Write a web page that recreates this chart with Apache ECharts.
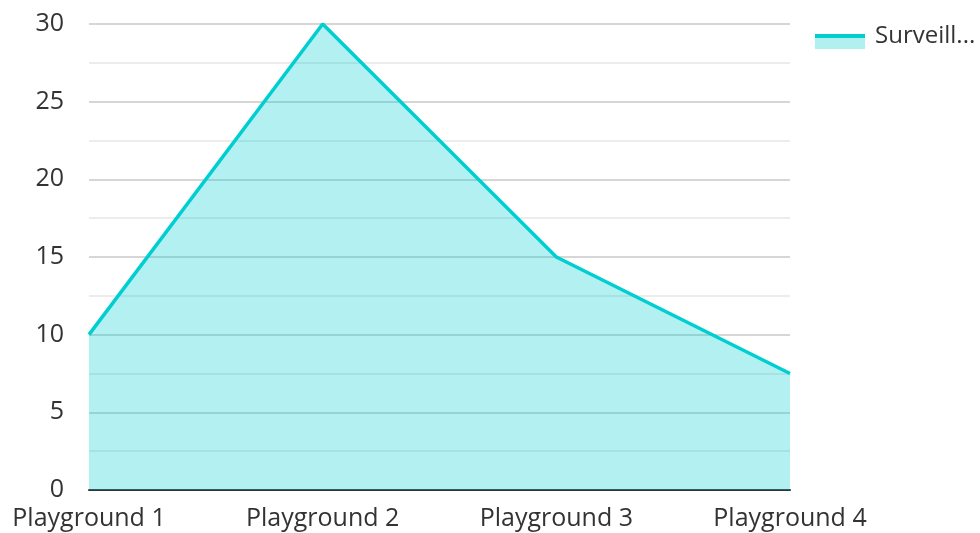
<!DOCTYPE html>
<html><head><meta charset="utf-8">
<script src="https://cdn.jsdelivr.net/npm/echarts@6/dist/echarts.min.js"></script>
<style>html,body{margin:0;padding:0;background:#fff}#c{width:980px;height:533px}</style>
</head><body><div id="c"></div>
<script>
const categories = ['Playground 1','Playground 2','Playground 3','Playground 4'];
const seriesName = 'Surveillance';
const values = [10, 30, 15, 7.5];
const lineColor = '#00CED1';
const areaColor = 'rgba(0,206,209,0.3)';
const chart = echarts.init(document.getElementById('c'));
chart.setOption({
  animation: false,
  textStyle: {fontFamily: 'Open Sans'},
  legend: {
    left: 810, top: 18, padding: 5, itemWidth: 50, itemHeight: 26, itemGap: 10,
    icon: 'rect',
    textStyle: {fontSize: 24, color: '#333', fontFamily: 'Open Sans', width: 112, overflow: 'truncate', padding: [0, 0, 0, 5]},
    data: [{
      name: seriesName,
      itemStyle: {
        color: {type: 'linear', x: 0, y: 0, x2: 0, y2: 1, colorStops: [
          {offset: 0, color: 'rgba(255,255,255,0)'}, {offset: 0.42, color: 'rgba(255,255,255,0)'},
          {offset: 0.42, color: lineColor}, {offset: 0.58, color: lineColor},
          {offset: 0.58, color: '#b2f0ef'}, {offset: 1, color: '#b2f0ef'}]}
      }
    }]
  },
  grid: {left: 89, right: 190, top: 24, bottom: 43, containLabel: false},
  xAxis: {
    type: 'category', data: categories, boundaryGap: false,
    axisLine: {lineStyle: {color: '#333', width: 2}},
    axisTick: {show: false},
    axisLabel: {fontSize: 25, color: '#333', margin: 16}
  },
  yAxis: {
    type: 'value', min: 0, max: 30, interval: 5,
    axisLabel: {fontSize: 25, color: '#333', margin: 25},
    splitLine: {lineStyle: {color: '#c8c8c8', width: 1.5}},
    minorTick: {show: false, splitNumber: 2},
    minorSplitLine: {show: true, lineStyle: {color: '#e6e6e6', width: 1.5}}
  },
  series: [{
    name: seriesName, type: 'line', data: values, symbol: 'none',
    lineStyle: {color: lineColor, width: 3.5},
    itemStyle: {color: lineColor},
    areaStyle: {color: areaColor, opacity: 1}
  }]
});
</script></body></html>
